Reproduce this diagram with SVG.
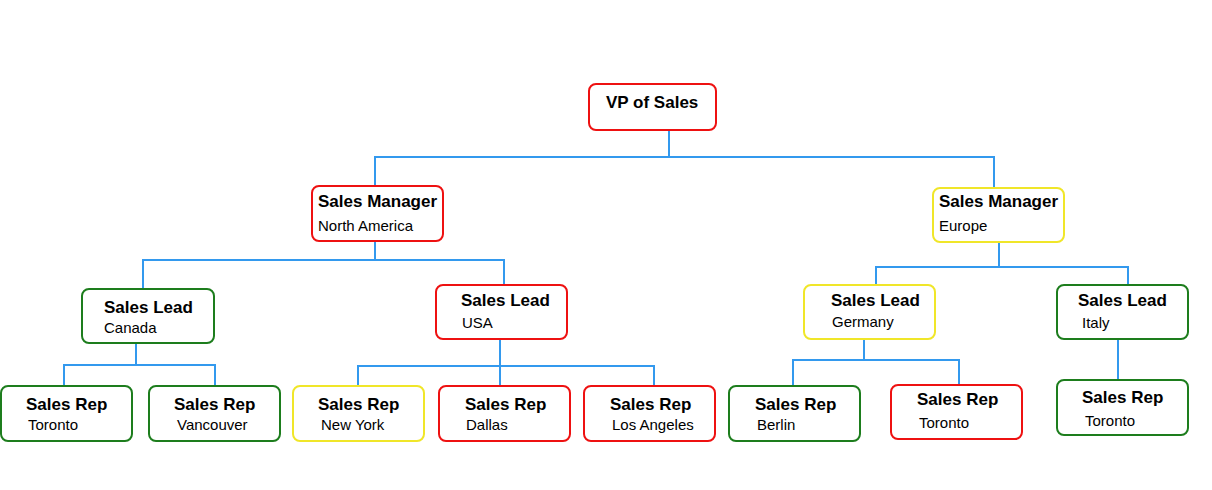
<svg xmlns="http://www.w3.org/2000/svg" width="1212" height="490" viewBox="0 0 1212 490">
<style>
rect{fill:#fff;stroke-width:2}
.r{stroke:#ee1111}.g{stroke:#1d7d1d}.y{stroke:#f0e629}
.t{font-family:"Liberation Sans",Arial,sans-serif;font-weight:bold;font-size:17px;fill:#000}
.s{font-family:"Liberation Sans",Arial,sans-serif;font-size:15px;fill:#000}
#c path{fill:none;stroke:#3399ee;stroke-width:2}
</style>
<rect width="1212" height="490" fill="#fff" stroke="none"/>
<g id="c">
<path d="M669 130V157M375 186V157H994V188"/>
<path d="M375 241V260M143 289V260H504V285"/>
<path d="M999 242V267M876 285V267H1128V285"/>
<path d="M136 343V365M64 386V365H215V386"/>
<path d="M500 339V386M358 386V366H654V386"/>
<path d="M864 339V360M793 386V360H959V385"/>
<path d="M1118 339V380"/>
</g>
<g id="vp"><rect class="r" x="589" y="84" width="127" height="46" rx="7"/><text class="t" x="606" y="108">VP of Sales</text></g>
<g id="smna"><rect class="r" x="312" y="186" width="131" height="55" rx="7"/><text class="t" x="318" y="207">Sales Manager</text><text class="s" x="318" y="231">North America</text></g>
<g id="smeu"><rect class="y" x="933" y="188" width="131" height="54" rx="7"/><text class="t" x="939" y="207">Sales Manager</text><text class="s" x="939" y="231">Europe</text></g>
<g id="slca"><rect class="g" x="82" y="289" width="132" height="54" rx="7"/><text class="t" x="104" y="313">Sales Lead</text><text class="s" x="104" y="333">Canada</text></g>
<g id="slus"><rect class="r" x="436" y="285" width="131" height="54" rx="7"/><text class="t" x="461" y="306">Sales Lead</text><text class="s" x="462" y="328">USA</text></g>
<g id="slde"><rect class="y" x="804" y="285" width="131" height="54" rx="7"/><text class="t" x="831" y="306">Sales Lead</text><text class="s" x="832" y="327">Germany</text></g>
<g id="slit"><rect class="g" x="1057" y="285" width="131" height="54" rx="7"/><text class="t" x="1078" y="306">Sales Lead</text><text class="s" x="1082" y="328">Italy</text></g>
<g id="r1"><rect class="g" x="1" y="386" width="131" height="55" rx="7"/><text class="t" x="26" y="410">Sales Rep</text><text class="s" x="28" y="430">Toronto</text></g>
<g id="r2"><rect class="g" x="149" y="386" width="131" height="55" rx="7"/><text class="t" x="174" y="410">Sales Rep</text><text class="s" x="177" y="430">Vancouver</text></g>
<g id="r3"><rect class="y" x="293" y="386" width="131" height="55" rx="7"/><text class="t" x="318" y="410">Sales Rep</text><text class="s" x="321" y="430">New York</text></g>
<g id="r4"><rect class="r" x="439" y="386" width="131" height="55" rx="7"/><text class="t" x="465" y="410">Sales Rep</text><text class="s" x="466" y="430">Dallas</text></g>
<g id="r5"><rect class="r" x="584" y="386" width="131" height="55" rx="7"/><text class="t" x="610" y="410">Sales Rep</text><text class="s" x="612" y="430">Los Angeles</text></g>
<g id="r6"><rect class="g" x="729" y="386" width="131" height="55" rx="7"/><text class="t" x="755" y="410">Sales Rep</text><text class="s" x="757" y="430">Berlin</text></g>
<g id="r7"><rect class="r" x="891" y="385" width="131" height="54" rx="7"/><text class="t" x="917" y="405">Sales Rep</text><text class="s" x="919" y="428">Toronto</text></g>
<g id="r8"><rect class="g" x="1057" y="380" width="131" height="55" rx="7"/><text class="t" x="1082" y="403">Sales Rep</text><text class="s" x="1085" y="426">Toronto</text></g>
</svg>
